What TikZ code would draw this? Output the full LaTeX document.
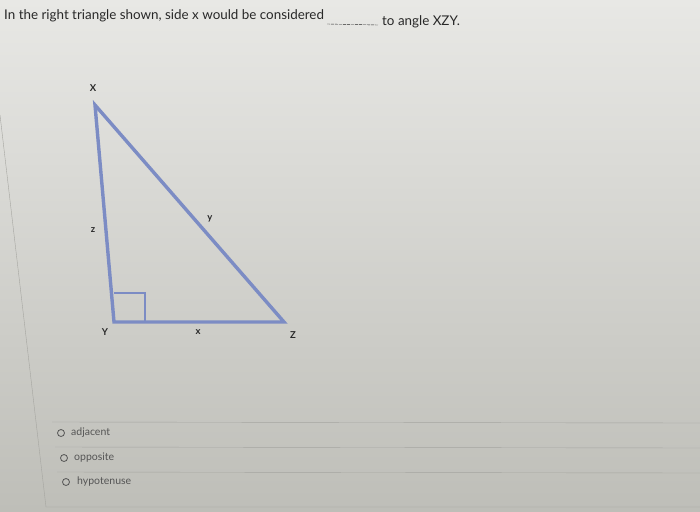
\documentclass[tikz,border=0pt]{standalone}
\usepackage{xcolor}
\usepackage{fontspec}
\setmainfont{Lato}
\usepackage{tikz}
\definecolor{screenlight}{RGB}{232,232,229}
\definecolor{screendark}{RGB}{190,190,184}
\definecolor{sideblue}{RGB}{124,140,196}
\definecolor{textgray}{RGB}{40,40,40}
\definecolor{optiongray}{RGB}{85,85,85}
\definecolor{rulegray}{RGB}{165,165,160}

\begin{document}
\begin{tikzpicture}[x=1pt,y=-1pt]
% Draw the screen background
\shade[top color=screenlight,bottom color=screendark] (0,0) rectangle (700,511);
\useasboundingbox (0,0) rectangle (700,511);
% Draw the panel border
\draw[rulegray,thin] (0,115) -- (46,507) -- (700,507);
% Question text
\node[anchor=base west,font=\fontsize{13.4}{15}\selectfont,text=textgray,inner sep=0] (q1) at (4,20) {In the right triangle shown, side x would be considered};
\draw[textgray,dash pattern=on 3pt off 1pt] (327,24) -- (378,25);
\node[anchor=base west,font=\fontsize{13.4}{15}\selectfont,text=textgray,inner sep=0] (q2) at (382,26) {to angle XZY.};
% Draw the triangle
\coordinate (X) at (95,105);
\coordinate (Y) at (114,322);
\coordinate (Z) at (284,322);
\draw[sideblue,line width=3.4pt,line join=miter] (X) -- (Y) -- (Z) -- cycle;
% Draw the right angle mark
\draw[sideblue,line width=2pt] (114,293) -- (145,293) -- (145,322);
% Vertex and side labels
\node[font=\fontsize{9.5}{11}\selectfont\bfseries,text=textgray] (lX) at (93,88) {X};
\node[font=\fontsize{9.5}{11}\selectfont\bfseries,text=textgray] (lY) at (105,332) {Y};
\node[font=\fontsize{9.5}{11}\selectfont\bfseries,text=textgray] (lZ) at (293,335) {Z};
\node[font=\fontsize{9.5}{11}\selectfont\bfseries,text=textgray] (lz) at (93,230) {z};
\node[font=\fontsize{9.5}{11}\selectfont\bfseries,text=textgray] (ly) at (210,219) {y};
\node[font=\fontsize{9.5}{11}\selectfont\bfseries,text=textgray] (lx) at (198,332) {x};
% Draw the answer rows
\draw[rulegray] (52,422) -- (700,423);
\draw[rulegray] (55,447) -- (700,448);
\draw[rulegray] (57,472) -- (700,473);
\draw[optiongray,thick] (61,433) circle (3.5);
\draw[optiongray,thick] (64,458) circle (3.5);
\draw[optiongray,thick] (66,482) circle (3.5);
\node[anchor=west,font=\fontsize{10.5}{12}\selectfont,text=optiongray,inner sep=0] (a1) at (71,433) {adjacent};
\node[anchor=west,font=\fontsize{10.5}{12}\selectfont,text=optiongray,inner sep=0] (a2) at (74,458) {opposite};
\node[anchor=west,font=\fontsize{10.5}{12}\selectfont,text=optiongray,inner sep=0] (a3) at (77,482) {hypotenuse};
\end{tikzpicture}
\end{document}
